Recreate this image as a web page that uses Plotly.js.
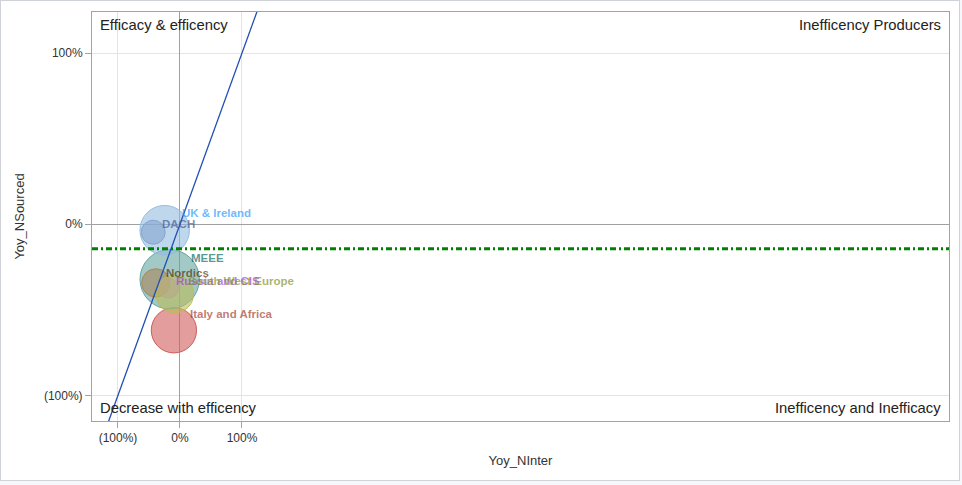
<!DOCTYPE html>
<html><head><meta charset="utf-8">
<script src="https://cdn.plot.ly/plotly-3.0.1.min.js"></script>
<style>
html,body{margin:0;padding:0;background:#f5f7fb;}
#frame{position:absolute;left:0px;top:0px;width:958px;height:479px;background:#fff;border:1px solid #cfd2d6;}
#chart{position:absolute;left:0;top:0;width:962px;height:485px;}
</style></head><body>
<div id="frame"></div><div id="chart"></div>
<script>
// ---- data ----
const regions      = ['DACH','Italy and Africa','MEEE','Nordics','Russia and CIS','South West Europe','UK & Ireland'];
const yoyNInter    = [-0.432, -0.098, -0.166, -0.390, -0.185, -0.085, -0.247];
const yoyNSourced  = [-0.047, -0.620, -0.322, -0.343, -0.374, -0.408, -0.035];
const bubbleSize   = [72, 256, 441, 100, 49, 177, 306];
const fillColors   = ['#6F7EB3','#D05B5B','#66A5A0','#A9865B','#B689CD','#BABC5C','#94BDE1'];
const labelColors  = ['#445694','#A23A2E','#01665E','#543005','#9D3CDB','#7F8E1F','#2597FA'];
const refLevel     = -0.144;          // green dash-dot reference
const diagX        = [-2, 2];         // y = x diagonal
const diagY        = [-2, 2];
const xTickVals    = [-1, 0, 1];
const xTickText    = ['(100%)','0%','100%'];
const yTickVals    = [-1, 0, 1];
const yTickText    = ['(100%)','0%','100%'];
const cornerTexts  = ['Efficacy & efficency','Inefficency Producers','Decrease with efficency','Inefficency and Inefficacy'];

const FONT = 'Liberation Sans, Arial, sans-serif';
const SIZEREF = 0.25;

function hexA(h, a){
  const r=parseInt(h.slice(1,3),16), g=parseInt(h.slice(3,5),16), b=parseInt(h.slice(5,7),16);
  return `rgba(${r},${g},${b},${a})`;
}

const traces = [
  {
    type:'scatter', mode:'markers',
    x: yoyNInter, y: yoyNSourced, text: regions,
    marker:{
      size: bubbleSize, sizemode:'area', sizeref: SIZEREF, opacity:1,
      color: fillColors.map(c=>hexA(c,0.6)),
      line:{color: fillColors.map(c=>c), width:1}
    },
    hoverinfo:'skip'
  },
  {
    type:'scatter', mode:'lines', x: diagX, y: diagY,
    line:{color:'#1f4fb3', width:1.3}, hoverinfo:'skip'
  }
];

const annotations = [];
regions.forEach((r,i)=>{
  const rad = Math.sqrt(bubbleSize[i]/SIZEREF)/2;
  annotations.push({
    x: yoyNInter[i], y: yoyNSourced[i], xref:'x', yref:'y',
    text:'<b>'+r+'</b>', showarrow:false,
    xanchor:'left', yanchor:'middle',
    xshift: rad-2, yshift: rad,
    font:{family:FONT, size:11.5, color:hexA(labelColors[i],0.68)}
  });
});
const cornerPos = [
  {x:0, y:1, xa:'left', xs:6, ys:-13},
  {x:1, y:1, xa:'right', xs:-6, ys:-13},
  {x:0, y:0, xa:'left', xs:6, ys:13},
  {x:1, y:0, xa:'right', xs:-6, ys:13}
];
cornerTexts.forEach((t,i)=>{
  const p = cornerPos[i];
  annotations.push({
    x:p.x, y:p.y, xref:'paper', yref:'paper', text:t, showarrow:false,
    xanchor:p.xa, yanchor:'middle', xshift:p.xs, yshift:p.ys,
    font:{family:FONT, size:14.8, color:'#222'}
  });
});

const axisCommon = {
  showgrid:true, gridcolor:'#e4e4e4', gridwidth:1,
  zeroline:true, zerolinecolor:'#a0a0a0', zerolinewidth:1,
  showline:true, mirror:true, linecolor:'#a0a4a8', linewidth:1,
  ticks:'outside', ticklen:6, tickcolor:'#a0a4a8',
  tickfont:{family:FONT, size:12, color:'#333'},
  tickmode:'array', fixedrange:true
};

const layout = {
  width:962, height:485,
  margin:{l:92, r:13, t:12, b:64},
  paper_bgcolor:'rgba(0,0,0,0)', plot_bgcolor:'#fff',
  showlegend:false, hovermode:false,
  font:{family:FONT, color:'#333'},
  xaxis: Object.assign({}, axisCommon, {
    range:[-1.419, 12.403], tickvals:xTickVals, ticktext:xTickText,
    title:{text:'Yoy_NInter', font:{family:FONT, size:13, color:'#333'}, standoff:11}
  }),
  yaxis: Object.assign({}, axisCommon, {
    range:[-1.150, 1.240], tickvals:yTickVals, ticktext:yTickText,
    title:{text:'Yoy_NSourced', font:{family:FONT, size:13, color:'#333'}, standoff:16}
  }),
  shapes:[{
    type:'line', xref:'paper', x0:0, x1:1, yref:'y', y0:refLevel, y1:refLevel,
    line:{color:'#008000', width:3, dash:'6px,3px,2px,3px'}
  }],
  annotations: annotations
};

Plotly.newPlot('chart', traces, layout, {displayModeBar:false, staticPlot:true});
</script>
</body></html>
